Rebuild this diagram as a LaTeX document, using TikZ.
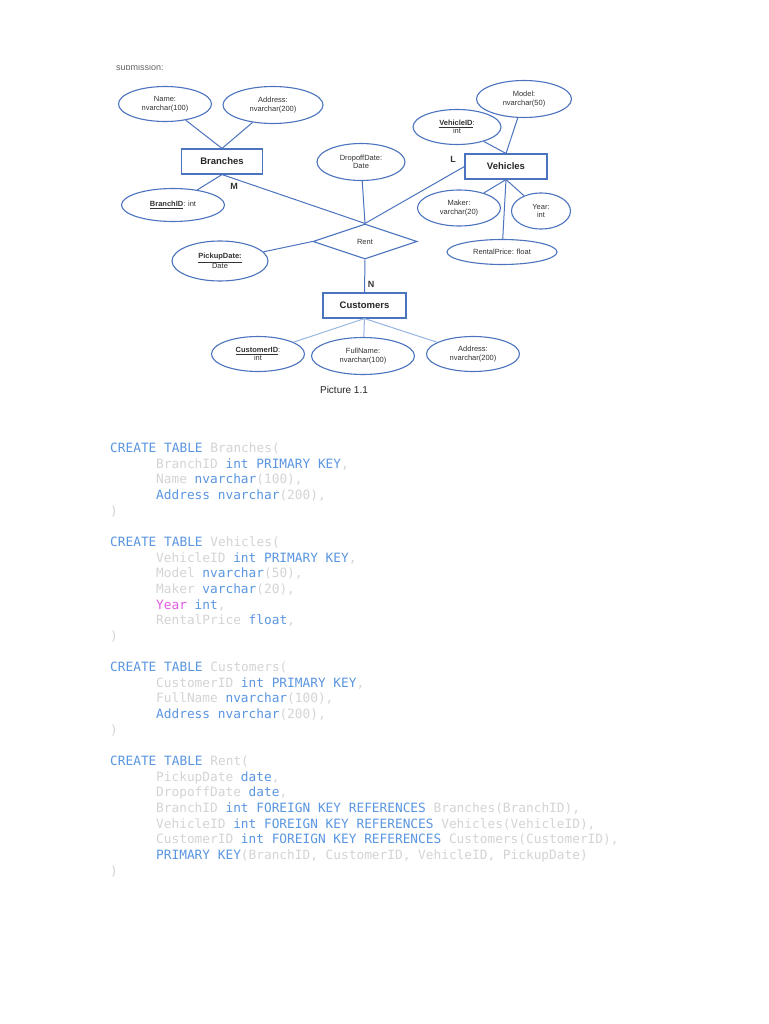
\documentclass[tikz,border=0pt]{standalone}
\usepackage{fontspec}
\setmainfont{Liberation Sans}
\setmonofont{DejaVu Sans Mono}
\usetikzlibrary{shapes.geometric}
\definecolor{erblue}{RGB}{75,115,190}
\definecolor{erlight}{RGB}{150,180,225}
\definecolor{kw}{RGB}{90,150,225}
\definecolor{idc}{RGB}{212,212,212}
\definecolor{mag}{RGB}{225,90,225}
\newcommand{\K}[1]{\textcolor{kw}{#1}}
\newcommand{\I}[1]{\textcolor{idc}{#1}}
\newcommand{\M}[1]{\textcolor{mag}{#1}}
\begin{document}
\begin{tikzpicture}[x=1pt,y=-1pt,
  attr/.style={draw=erblue,line width=1.1pt,ellipse,inner sep=0pt,font=\fontsize{7.5}{8.5}\selectfont,align=center,text=black!80},
  ent/.style={draw=erblue,line width=1.1pt,rectangle,inner sep=0pt,font=\bfseries\fontsize{9.5}{11}\selectfont,text=black!85},
  conn/.style={draw=erblue,line width=1pt},
  lconn/.style={draw=erlight,line width=1pt},
  card/.style={font=\bfseries\fontsize{9}{10}\selectfont,text=black!80},
  code/.style={anchor=base west,inner sep=0pt,font=\ttfamily\fontsize{12.8}{15}\selectfont}]
\useasboundingbox (0,0) rectangle (768,1024);
\fill[white] (0,0) rectangle (768,1024);
% cut-off heading
\begin{scope}
\clip (100,66) rectangle (200,80);
\node[anchor=north west,inner sep=0pt,text=black!60,font=\fontsize{9}{10}\selectfont] (sub) at (116,64) {submission:};
\end{scope}
% entities
\node[ent,minimum width=81pt,minimum height=25pt] (br) at (222,161.5) {Branches};
\node[ent,minimum width=82pt,minimum height=25pt] (ve) at (506,166.5) {Vehicles};
\node[ent,minimum width=83pt,minimum height=25pt] (cu) at (364.5,305.5) {Customers};
\node[draw=erblue,line width=1.1pt,diamond,aspect=3,minimum width=104pt,minimum height=35pt,inner sep=0pt,font=\fontsize{7.5}{8.5}\selectfont,text=black!80] (re) at (365,241.5) {Rent};
% attributes
\node[attr,minimum width=93pt,minimum height=35pt] (bn) at (165,104) {Name:\\nvarchar(100)};
\node[attr,minimum width=100pt,minimum height=37pt] (ba) at (273,105) {Address:\\nvarchar(200)};
\node[attr,minimum width=103pt,minimum height=33pt] (bid) at (173,205) {\underline{\textbf{BranchID}}: int};
\node[attr,minimum width=88pt,minimum height=37pt] (dd) at (361,162) {DropoffDate:\\Date};
\node[attr,minimum width=96pt,minimum height=40pt] (pd) at (220,261) {\underline{\textbf{PickupDate:}}\\Date};
\node[attr,minimum width=88pt,minimum height=35pt] (vid) at (457,127) {\underline{\textbf{VehicleID}}:\\int};
\node[attr,minimum width=95pt,minimum height=37pt] (vm) at (524,99) {Model:\\nvarchar(50)};
\node[attr,minimum width=83pt,minimum height=36pt] (vk) at (459,208) {Maker:\\varchar(20)};
\node[attr,minimum width=59pt,minimum height=36pt] (vy) at (541,211) {Year:\\int};
\node[attr,minimum width=110pt,minimum height=25pt] (vr) at (502,252) {RentalPrice: float};
\node[attr,minimum width=93pt,minimum height=35pt] (cid) at (258,354) {\underline{\textbf{CustomerID}}:\\int};
\node[attr,minimum width=103pt,minimum height=37pt] (cf) at (363,356) {FullName:\\nvarchar(100)};
\node[attr,minimum width=93pt,minimum height=35pt] (ca) at (473,354) {Address:\\nvarchar(200)};
% cardinalities
\node[card] (m) at (234,186) {M};
\node[card] (l) at (453,159) {L};
\node[card] (n) at (371,284) {N};
\node[font=\fontsize{10}{12}\selectfont,text=black!85] (cap) at (344,390) {Picture 1.1};
% connectors
\draw[conn] (bn) -- (br.north);
\draw[conn] (ba) -- (br.north);
\draw[conn] (bid) -- (br.south);
\draw[conn] (br.south) -- (re.north);
\draw[conn] (dd) -- (re.north);
\draw[conn] (ve.west) -- (re.north);
\draw[conn] (pd) -- (re.west);
\draw[conn] (re.south) -- (cu.north);
\draw[conn] (vid) -- (ve.north);
\draw[conn] (vm) -- (ve.north);
\draw[conn] (ve.south) -- (vk);
\draw[conn] (ve.south) -- (vy);
\draw[conn] (ve.south) -- (vr);
\draw[lconn] (cu.south) -- (cid);
\draw[lconn] (cu.south) -- (cf);
\draw[lconn] (cu.south) -- (ca);
% code
\def\ya{452.5}
\node[code] (c0) at (110,452.5) {\K{CREATE TABLE} \I{Branches(}};
\node[code] (c1) at (156,468.2) {\I{BranchID} \K{int PRIMARY KEY}\I{,}};
\node[code] (c2) at (156,483.8) {\I{Name} \K{nvarchar}\I{(100),}};
\node[code] (c3) at (156,499.5) {\K{Address nvarchar}\I{(200),}};
\node[code] (c4) at (110,515.1) {\I{)}};
\node[code] (c6) at (110,546.4) {\K{CREATE TABLE} \I{Vehicles(}};
\node[code] (c7) at (156,562.1) {\I{VehicleID} \K{int PRIMARY KEY}\I{,}};
\node[code] (c8) at (156,577.7) {\I{Model} \K{nvarchar}\I{(50),}};
\node[code] (c9) at (156,593.4) {\I{Maker} \K{varchar}\I{(20),}};
\node[code] (c10) at (156,609.0) {\M{Year} \K{int}\I{,}};
\node[code] (c11) at (156,624.7) {\I{RentalPrice} \K{float}\I{,}};
\node[code] (c12) at (110,640.3) {\I{)}};
\node[code] (c14) at (110,671.6) {\K{CREATE TABLE} \I{Customers(}};
\node[code] (c15) at (156,687.3) {\I{CustomerID} \K{int PRIMARY KEY}\I{,}};
\node[code] (c16) at (156,702.9) {\I{FullName} \K{nvarchar}\I{(100),}};
\node[code] (c17) at (156,718.6) {\K{Address nvarchar}\I{(200),}};
\node[code] (c18) at (110,734.2) {\I{)}};
\node[code] (c20) at (110,765.5) {\K{CREATE TABLE} \I{Rent(}};
\node[code] (c21) at (156,781.2) {\I{PickupDate} \K{date}\I{,}};
\node[code] (c22) at (156,796.8) {\I{DropoffDate} \K{date}\I{,}};
\node[code] (c23) at (156,812.5) {\I{BranchID} \K{int FOREIGN KEY REFERENCES} \I{Branches(BranchID),}};
\node[code] (c24) at (156,828.1) {\I{VehicleID} \K{int FOREIGN KEY REFERENCES} \I{Vehicles(VehicleID),}};
\node[code] (c25) at (156,843.8) {\I{CustomerID} \K{int FOREIGN KEY REFERENCES} \I{Customers(CustomerID),}};
\node[code] (c26) at (156,859.4) {\K{PRIMARY KEY}\I{(BranchID, CustomerID, VehicleID, PickupDate)}};
\node[code] (c27) at (110,875.1) {\I{)}};
\end{tikzpicture}
\end{document}
